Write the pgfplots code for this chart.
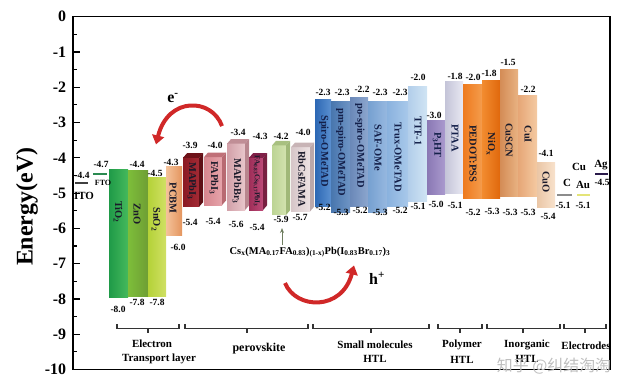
\documentclass[border=0pt]{standalone}
\usepackage{fontspec}
\setmainfont{Liberation Serif}
\newfontfamily\cjk{Noto Sans CJK SC}
\usepackage{pgfplots}
\pgfplotsset{compat=1.18}
\usetikzlibrary{arrows.meta}

\definecolor{tiA}{HTML}{1F9A48}\definecolor{tiB}{HTML}{45B95C}
\definecolor{znA}{HTML}{7DBE3A}\definecolor{znB}{HTML}{6E9E34}
\definecolor{snA}{HTML}{B4D238}\definecolor{snB}{HTML}{D0E064}
\definecolor{pcA}{HTML}{F4C29A}\definecolor{pcB}{HTML}{E4955E}
\definecolor{p1A}{HTML}{8A1A22}\definecolor{p1B}{HTML}{A32A35}\definecolor{p1T}{HTML}{6E1219}\definecolor{p1S}{HTML}{5E0F15}
\definecolor{p2A}{HTML}{D6868E}\definecolor{p2B}{HTML}{E6A4AB}\definecolor{p2T}{HTML}{C07078}\definecolor{p2S}{HTML}{B86A72}
\definecolor{p3A}{HTML}{D2A0A8}\definecolor{p3B}{HTML}{E8C6CB}\definecolor{p3T}{HTML}{C08E96}\definecolor{p3S}{HTML}{B8868E}
\definecolor{p4A}{HTML}{9E2E58}\definecolor{p4B}{HTML}{BE4A78}\definecolor{p4T}{HTML}{802048}\definecolor{p4S}{HTML}{782040}
\definecolor{p5A}{HTML}{BCD494}\definecolor{p5B}{HTML}{D2E2AE}\definecolor{p5T}{HTML}{A8C080}\definecolor{p5S}{HTML}{A0B878}
\definecolor{p6A}{HTML}{D6C6C8}\definecolor{p6B}{HTML}{EDE2E3}\definecolor{p6T}{HTML}{C8B4B6}\definecolor{p6S}{HTML}{BBA8AA}
\definecolor{h1A}{HTML}{2C68B4}\definecolor{h1B}{HTML}{5B90D0}
\definecolor{h2A}{HTML}{4876AE}\definecolor{h2B}{HTML}{6E94C4}
\definecolor{h3A}{HTML}{6A88B8}\definecolor{h3B}{HTML}{8CA6CE}
\definecolor{h4A}{HTML}{76A0D0}\definecolor{h4B}{HTML}{96B8E0}
\definecolor{h5A}{HTML}{8AB2DE}\definecolor{h5B}{HTML}{A8C8EA}
\definecolor{h6A}{HTML}{B2CEEA}\definecolor{h6B}{HTML}{D0E4F4}
\definecolor{h7A}{HTML}{8A78B4}\definecolor{h7B}{HTML}{AA9ACE}
\definecolor{h8A}{HTML}{C4C4D8}\definecolor{h8B}{HTML}{E8E8F2}
\definecolor{h9A}{HTML}{EE7A1E}\definecolor{h9B}{HTML}{F49C4C}
\definecolor{haA}{HTML}{F28C30}\definecolor{haB}{HTML}{E0680C}
\definecolor{hbA}{HTML}{D48C56}\definecolor{hbB}{HTML}{E8B282}
\definecolor{hcA}{HTML}{E6A676}\definecolor{hcB}{HTML}{F4CAA2}
\definecolor{hdA}{HTML}{EAC6A6}\definecolor{hdB}{HTML}{F8E2CC}
\definecolor{arrowred}{HTML}{D02828}
\definecolor{txt}{HTML}{1A1A2A}
\definecolor{navy}{HTML}{14204A}

\newcommand{\bbar}[6]{\addplot[draw=none, left color=#5, right color=#6] coordinates {(#1,#3) (#2,#3) (#2,#4) (#1,#4)} -- cycle;}
% 3D bar: x1,x2,fronttop,bottom,colA,colB,topcol,sidecol
\newcommand{\pbar}[8]{%
\addplot[draw=none, left color=#5, right color=#6] coordinates {(#1,#3) (#2-4,#3) (#2-4,#4) (#1,#4)} -- cycle;
\addplot[draw=none, fill=#7] coordinates {(#1,#3) (#2-4,#3) (#2,#3+0.13) (#1+4,#3+0.13)} -- cycle;
\addplot[draw=none, fill=#8] coordinates {(#2-4,#3) (#2,#3+0.13) (#2,#4+0.13) (#2-4,#4)} -- cycle;}
\newcommand{\vfont}{\bfseries\fontsize{9.5}{10}\selectfont}
\newcommand{\bfnt}{\bfseries\fontsize{10.5}{11}\selectfont}
\newcommand{\vl}[3]{\node[font=\vfont, inner sep=0pt] at (axis cs:#1,#2) {#3};}
\newcommand{\bl}[3]{\node[font=\bfnt, rotate=-90, inner sep=0pt, text=txt] at (axis cs:#1,#2) {#3};}
\newcommand{\blb}[3]{\node[font=\bfnt, rotate=-90, inner sep=0pt, text=navy] at (axis cs:#1,#2) {#3};}
\newcommand{\brk}[3]{\draw[line width=1.1bp, black!80] (axis cs:#1,-8.71) -- (axis cs:#1,-8.85) -- (axis cs:#2,-8.85) -- (axis cs:#2,-8.71); \draw[line width=1.1bp, black!80] (axis cs:#3,-8.85) -- (axis cs:#3,-8.97);}

\begin{document}
\begin{tikzpicture}[x=1bp,y=1bp]
\path[use as bounding box] (0,0) rectangle (639,383);
\begin{axis}[at={(72.7bp,13.5bp)}, anchor=south west, scale only axis,
  width=537.3bp, height=352.8bp,
  xmin=72.7, xmax=610, ymin=-10, ymax=0, clip=false,
  axis line style={line width=1.6bp},
  xtick=\empty,
  ytick={0,-1,-2,-3,-4,-5,-6,-7,-8,-9,-10},
  yticklabels={0,-1,-2,-3,-4,-5,-6,-7,-8,-9,-10},
  minor ytick={-0.5,-1.5,-2.5,-3.5,-4.5,-5.5,-6.5,-7.5,-8.5,-9.5},
  ytick pos=left, tick align=inside,
  major tick length=7bp, minor tick length=4bp,
  every tick/.style={line width=1.2bp, black},
  yticklabel style={font=\bfseries\fontsize{16}{16}\selectfont, xshift=-3bp},
]
% electrodes lines (ITO/FTO)
\addplot[line width=2bp, color=black!75] coordinates {(75,-4.71) (88,-4.71)};
\addplot[line width=2bp, color={rgb,255:red,42;green,138;blue,80}] coordinates {(93,-4.46) (107,-4.46)};
% ETL
\bbar{109}{128}{-4.32}{-7.97}{tiA}{tiB}
\bbar{128}{148}{-4.35}{-7.92}{znA}{znB}
\bbar{148}{166}{-4.57}{-7.92}{snA}{snB}
\bbar{166}{182}{-4.26}{-6.19}{pcA}{pcB}
% perovskites
\pbar{183}{203}{-4.0}{-5.39}{p1A}{p1B}{p1T}{p1S}
\pbar{204}{226}{-3.98}{-5.34}{p2A}{p2B}{p2T}{p2S}
\pbar{227}{249}{-3.6}{-5.48}{p3A}{p3B}{p3T}{p3S}
\pbar{249}{267}{-4.0}{-5.48}{p4A}{p4B}{p4T}{p4S}
\pbar{272}{290}{-3.65}{-5.62}{p5A}{p5B}{p5T}{p5S}
\pbar{291}{314}{-3.7}{-5.52}{p6A}{p6B}{p6T}{p6S}
% HTL
\bbar{315}{331}{-2.36}{-5.39}{h1A}{h1B}
\bbar{331}{350}{-2.39}{-5.54}{h2A}{h2B}
\bbar{350}{368}{-2.28}{-5.39}{h3A}{h3B}
\bbar{368}{387}{-2.39}{-5.54}{h4A}{h4B}
\bbar{387}{408}{-2.39}{-5.39}{h5A}{h5B}
\bbar{408}{427}{-1.99}{-5.25}{h6A}{h6B}
\bbar{427}{445}{-2.93}{-5.05}{h7A}{h7B}
\bbar{445}{463}{-1.85}{-5.0}{h8A}{h8B}
\bbar{463}{482}{-1.91}{-5.14}{h9A}{h9B}
\bbar{482}{500}{-1.82}{-5.14}{haA}{haB}
\bbar{500}{518}{-1.51}{-5.11}{hbA}{hbB}
\bbar{518}{537}{-2.22}{-5.11}{hcA}{hcB}
\bbar{537}{555}{-4.12}{-5.42}{hdA}{hdB}
% electrodes
\addplot[line width=2.2bp, color=black!45] coordinates {(557,-5.05) (572,-5.05)};
\addplot[line width=2.2bp, color={rgb,255:red,228;green,228;blue,120}] coordinates {(577,-5.05) (590,-5.05)};
\addplot[line width=2.2bp, color={rgb,255:red,42;green,26;blue,74}] coordinates {(595,-4.46) (608,-4.46)};

% ITO/FTO labels
\vl{82}{-4.49}{-4.4}
\vl{101}{-4.18}{-4.7}
\node[font=\bfseries\fontsize{11}{11}\selectfont, inner sep=0pt] at (axis cs:84,-5.08) {ITO};
\node[font=\bfseries\fontsize{8}{8}\selectfont, inner sep=0pt] at (axis cs:103,-4.71) {FTO};
% ETL labels
\vl{137}{-4.18}{-4.4}
\vl{155}{-4.43}{-4.5}
\vl{171}{-4.12}{-4.3}
\vl{178}{-6.53}{-6.0}
\vl{118}{-8.31}{-8.0}
\vl{137}{-8.11}{-7.8}
\vl{157}{-8.11}{-7.8}
% perovskite labels
\vl{190}{-3.64}{-3.9}
\vl{215}{-3.64}{-4.0}
\vl{238}{-3.27}{-3.4}
\vl{260}{-3.38}{-4.3}
\vl{281}{-3.38}{-4.2}
\vl{303}{-3.27}{-4.0}
\vl{190}{-5.82}{-5.4}
\vl{213}{-5.79}{-5.4}
\vl{236}{-5.88}{-5.6}
\vl{257}{-5.96}{-5.4}
\vl{281}{-5.76}{-5.9}
\vl{300}{-5.68}{-5.7}
% HTL top labels
\vl{323}{-2.16}{-2.3}
\vl{342}{-2.16}{-2.3}
\vl{362}{-2.05}{-2.2}
\vl{380}{-2.16}{-2.3}
\vl{400}{-2.16}{-2.3}
\vl{418}{-1.71}{-2.0}
\vl{434}{-2.81}{-3.0}
\vl{455}{-1.68}{-1.8}
\vl{473}{-1.71}{-2.0}
\vl{489}{-1.60}{-1.8}
\vl{508}{-1.31}{-1.5}
\vl{528}{-2.05}{-2.2}
\vl{546}{-3.89}{-4.1}
% HTL bottom labels
\vl{323}{-5.42}{-5.2}
\vl{341}{-5.56}{-5.3}
\vl{360}{-5.48}{-5.2}
\vl{380}{-5.56}{-5.3}
\vl{400}{-5.48}{-5.2}
\vl{418}{-5.39}{-5.1}
\vl{436}{-5.31}{-5.0}
\vl{455}{-5.34}{-5.1}
\vl{473}{-5.56}{-5.2}
\vl{492}{-5.51}{-5.3}
\vl{510}{-5.56}{-5.3}
\vl{528}{-5.54}{-5.3}
\vl{548}{-5.65}{-5.4}
% electrode labels
\node[font=\bfseries\fontsize{11}{11}\selectfont, inner sep=0pt] at (axis cs:567,-4.71) {C};
\node[font=\bfseries\fontsize{11}{11}\selectfont, inner sep=0pt] at (axis cs:583,-4.77) {Au};
\node[font=\bfseries\fontsize{11}{11}\selectfont, inner sep=0pt] at (axis cs:579,-4.26) {Cu};
\node[font=\bfseries\fontsize{11}{11}\selectfont, inner sep=0pt] at (axis cs:601,-4.20) {Ag};
\vl{602}{-4.71}{-4.5}
\vl{563}{-5.34}{-5.1}
\vl{583}{-5.34}{-5.1}
% bar names
\bl{118}{-5.54}{TiO\textsubscript{2}}
\bl{137}{-5.59}{ZnO}
\bl{156}{-5.74}{SnO\textsubscript{2}}
\bl{173}{-5.14}{PCBM}
\bl{192}{-4.66}{MAPbI\textsubscript{3}}
\bl{214}{-4.57}{FAPbI\textsubscript{3}}
\bl{237}{-4.66}{MAPbBr\textsubscript{3}}
\node[font=\bfseries\fontsize{7.5}{8}\selectfont, rotate=-90, inner sep=0pt, text=txt] at (axis cs:257,-4.66) {FA\textsubscript{0.83}Cs\textsubscript{0.17}PbI\textsubscript{3}};
\bl{302}{-4.6}{RbCsFAMA}
\blb{324}{-3.81}{Spiro-OMeTAD}
\blb{341}{-3.84}{pm-spiro-OMeTAD}
\blb{360}{-3.66}{po-spiro-OMeTAD}
\blb{378}{-3.72}{SAF-OMe}
\blb{398}{-3.98}{Trux-OMeTAD}
\blb{418}{-3.24}{TTF-1}
\blb{437}{-3.64}{P\textsubscript{3}HT}
\blb{455}{-3.44}{PTAA}
\bl{473}{-3.89}{PEDOT:PSS}
\bl{491}{-3.61}{NiO\textsubscript{x}}
\bl{509}{-3.5}{CuSCN}
\bl{528}{-3.33}{CuI}
\bl{546}{-4.68}{CuO}
% arrows and carriers
\draw[line width=4bp, color=arrowred, -{Triangle[length=9bp,width=12bp]}] (axis cs:222,-3.10) .. controls (axis cs:212,-2.30) and (axis cs:168,-2.25) .. (axis cs:156,-3.62);
\node[font=\bfseries\fontsize{16}{16}\selectfont, inner sep=0pt] at (axis cs:173,-2.30) {e\textsuperscript{-}};
\draw[line width=4bp, color=arrowred, -{Triangle[length=9bp,width=12bp]}] (axis cs:285,-7.55) .. controls (axis cs:296,-8.30) and (axis cs:342,-8.35) .. (axis cs:354,-7.05);
\node[font=\bfseries\fontsize{16}{16}\selectfont, inner sep=0pt] at (axis cs:377,-7.41) {h\textsuperscript{+}};
\draw[line width=0.8bp, color={rgb,255:red,110;green,125;blue,95}, -{Stealth[length=5bp,width=4bp]}] (axis cs:282,-6.47) -- (axis cs:282,-5.99);
\node[font=\bfseries\fontsize{10.5}{11}\selectfont, inner sep=0pt] at (axis cs:310,-6.67) {Cs\textsubscript{x}(MA\textsubscript{0.17}FA\textsubscript{0.83})\textsubscript{(1-x)}Pb(I\textsubscript{0.83}Br\textsubscript{0.17})\textsubscript{3}};
% brackets
\brk{117}{179}{148}
\brk{185}{308}{247}
\brk{313}{429}{371}
\brk{438}{482}{460}
\brk{487}{560}{523}
\brk{564}{606}{585}
\node[font=\bfseries\fontsize{11}{11}\selectfont, inner sep=0pt] at (axis cs:152,-9.28) {Electron};
\node[font=\bfseries\fontsize{11}{11}\selectfont, inner sep=0pt] at (axis cs:159,-9.70) {Transport layer};
\node[font=\bfseries\fontsize{12}{12}\selectfont, inner sep=0pt] at (axis cs:259,-9.42) {perovskite};
\node[font=\bfseries\fontsize{11}{11}\selectfont, inner sep=0pt] at (axis cs:375,-9.31) {Small molecules};
\node[font=\bfseries\fontsize{11}{11}\selectfont, inner sep=0pt] at (axis cs:375,-9.70) {HTL};
\node[font=\bfseries\fontsize{11}{11}\selectfont, inner sep=0pt] at (axis cs:462,-9.31) {Polymer};
\node[font=\bfseries\fontsize{11}{11}\selectfont, inner sep=0pt] at (axis cs:462,-9.72) {HTL};
\node[font=\bfseries\fontsize{11}{11}\selectfont, inner sep=0pt] at (axis cs:527,-9.31) {Inorganic};
\node[font=\bfseries\fontsize{11}{11}\selectfont, inner sep=0pt] at (axis cs:527,-9.70) {HTL};
\node[font=\bfseries\fontsize{11}{11}\selectfont, inner sep=0pt] at (axis cs:586,-9.34) {Electrodes};
% y label
\node[font=\bfseries\fontsize{24}{24}\selectfont, rotate=90, inner sep=0pt] at (axis cs:27,-5.39) {Energy(eV)};
% watermark
\node[font=\cjk\fontsize{16}{16}\selectfont, text=black!25, inner sep=0pt] at (axis cs:554,-9.9) {知乎 @纠结淘淘};
\end{axis}
\end{tikzpicture}
\end{document}
